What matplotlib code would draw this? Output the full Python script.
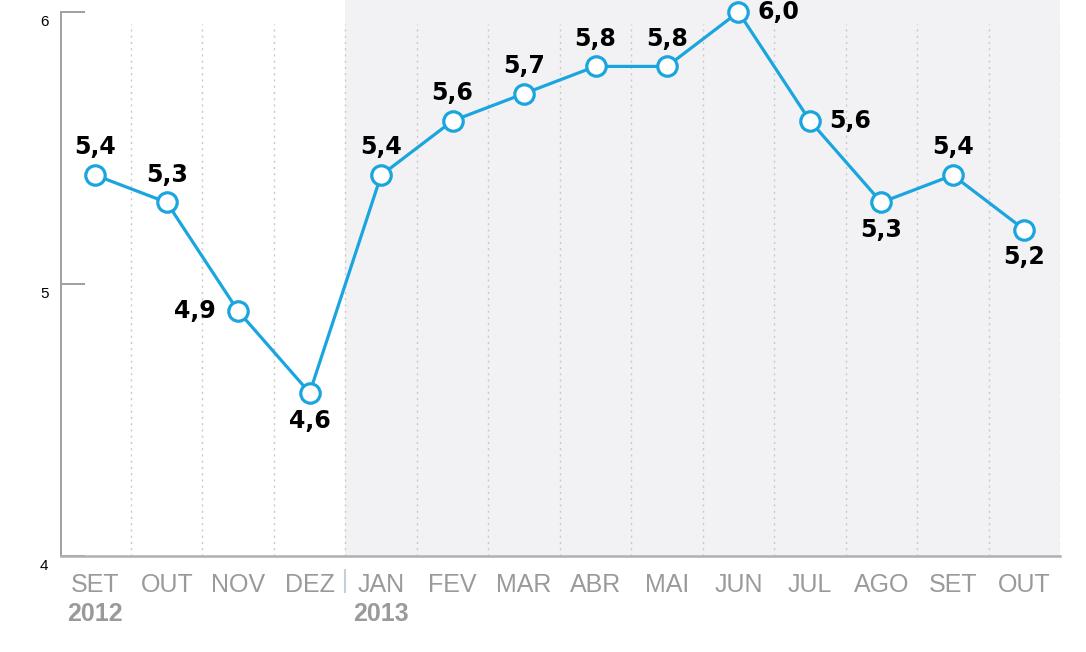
import numpy as np
import matplotlib
matplotlib.use('Agg')
import matplotlib.pyplot as plt
import matplotlib.transforms as mtransforms

# data
months = ['SET', 'OUT', 'NOV', 'DEZ', 'JAN', 'FEV', 'MAR', 'ABR', 'MAI', 'JUN', 'JUL', 'AGO', 'SET', 'OUT']
values = [5.4, 5.3, 4.9, 4.6, 5.4, 5.6, 5.7, 5.8, 5.8, 6.0, 5.6, 5.3, 5.4, 5.2]
years = ['2012', '2013']
year_start = [0, 4]
# where each value label sits relative to its marker
label_side = ['up', 'up', 'left', 'down', 'up', 'up', 'up', 'up', 'up', 'right', 'right', 'down', 'up', 'down']
yticks = [4, 5, 6]

blue = '#1aa5df'
grey_txt = '#9a9a9a'

fig = plt.figure(figsize=(10.86, 6.52), dpi=100)
ax = fig.add_axes([61 / 1086, 96 / 652, 999 / 1086, 556 / 652])

x = np.arange(len(months))
ax.set_xlim(-0.48, len(months) - 0.5)
ax.set_ylim(4, 4 + 556 / 272)

# shaded 2013 region
ax.axvspan(3.5, len(months) - 0.5, color='#f2f2f4', zorder=0, lw=0)

# dotted separators
for gx in np.arange(0.5, len(months), 1.0):
    ax.plot([gx, gx], [4, 5.955], color='#c9c9c9', lw=1, ls=(0, (1.5, 3)), zorder=1)

ax.plot(x, values, color=blue, lw=2.3, marker='o', ms=14, mfc='white',
        mec=blue, mew=2.3, zorder=5, clip_on=False)

offsets = {'up': (0, 20), 'down': (0, -20), 'left': (-31, 0), 'right': (29, 0)}
for xi, v, side in zip(x, values, label_side):
    ax.annotate(f'{v:.1f}'.replace('.', ','), (xi, v), xytext=offsets[side],
                textcoords='offset points', ha='center', va='center',
                fontsize=17, fontweight='bold', family='DejaVu Sans',
                color='#000000', zorder=6, annotation_clip=False)

# axes styling
for s in ['top', 'right']:
    ax.spines[s].set_visible(False)
ax.spines['left'].set_bounds(4, 6)
ax.spines['left'].set_color('#a0a0a0')
ax.spines['left'].set_linewidth(1.4)
ax.spines['bottom'].set_color('#b0b0b0')
ax.spines['bottom'].set_linewidth(1.8)

ax.set_yticks(yticks)
ax.set_yticklabels([str(t) for t in yticks], fontsize=11, family='Liberation Sans')
ax.tick_params(axis='y', direction='in', length=17, width=1.4, color='#a0a0a0', pad=9)
shift = mtransforms.ScaledTranslation(0, -8 / 100, fig.dpi_scale_trans)
for lab in ax.get_yticklabels():
    lab.set_transform(lab.get_transform() + shift)

ax.set_xticks(x)
ax.set_xticklabels(months, fontsize=18, family='Liberation Sans', color=grey_txt)
ax.tick_params(axis='x', length=0, pad=12)

trans = ax.get_xaxis_transform()
for yr, pos in zip(years, year_start):
    ax.text(pos, -58 / 556, yr, transform=trans, ha='center', va='center',
            fontsize=18, fontweight='bold', family='Liberation Sans', color=grey_txt)

# small divider between DEZ and JAN
ax.plot([3.5, 3.5], [-14 / 556, -36 / 556], transform=trans, color='#c5cede',
        lw=1.5, clip_on=False)

fig.savefig('out.png', dpi=100)
